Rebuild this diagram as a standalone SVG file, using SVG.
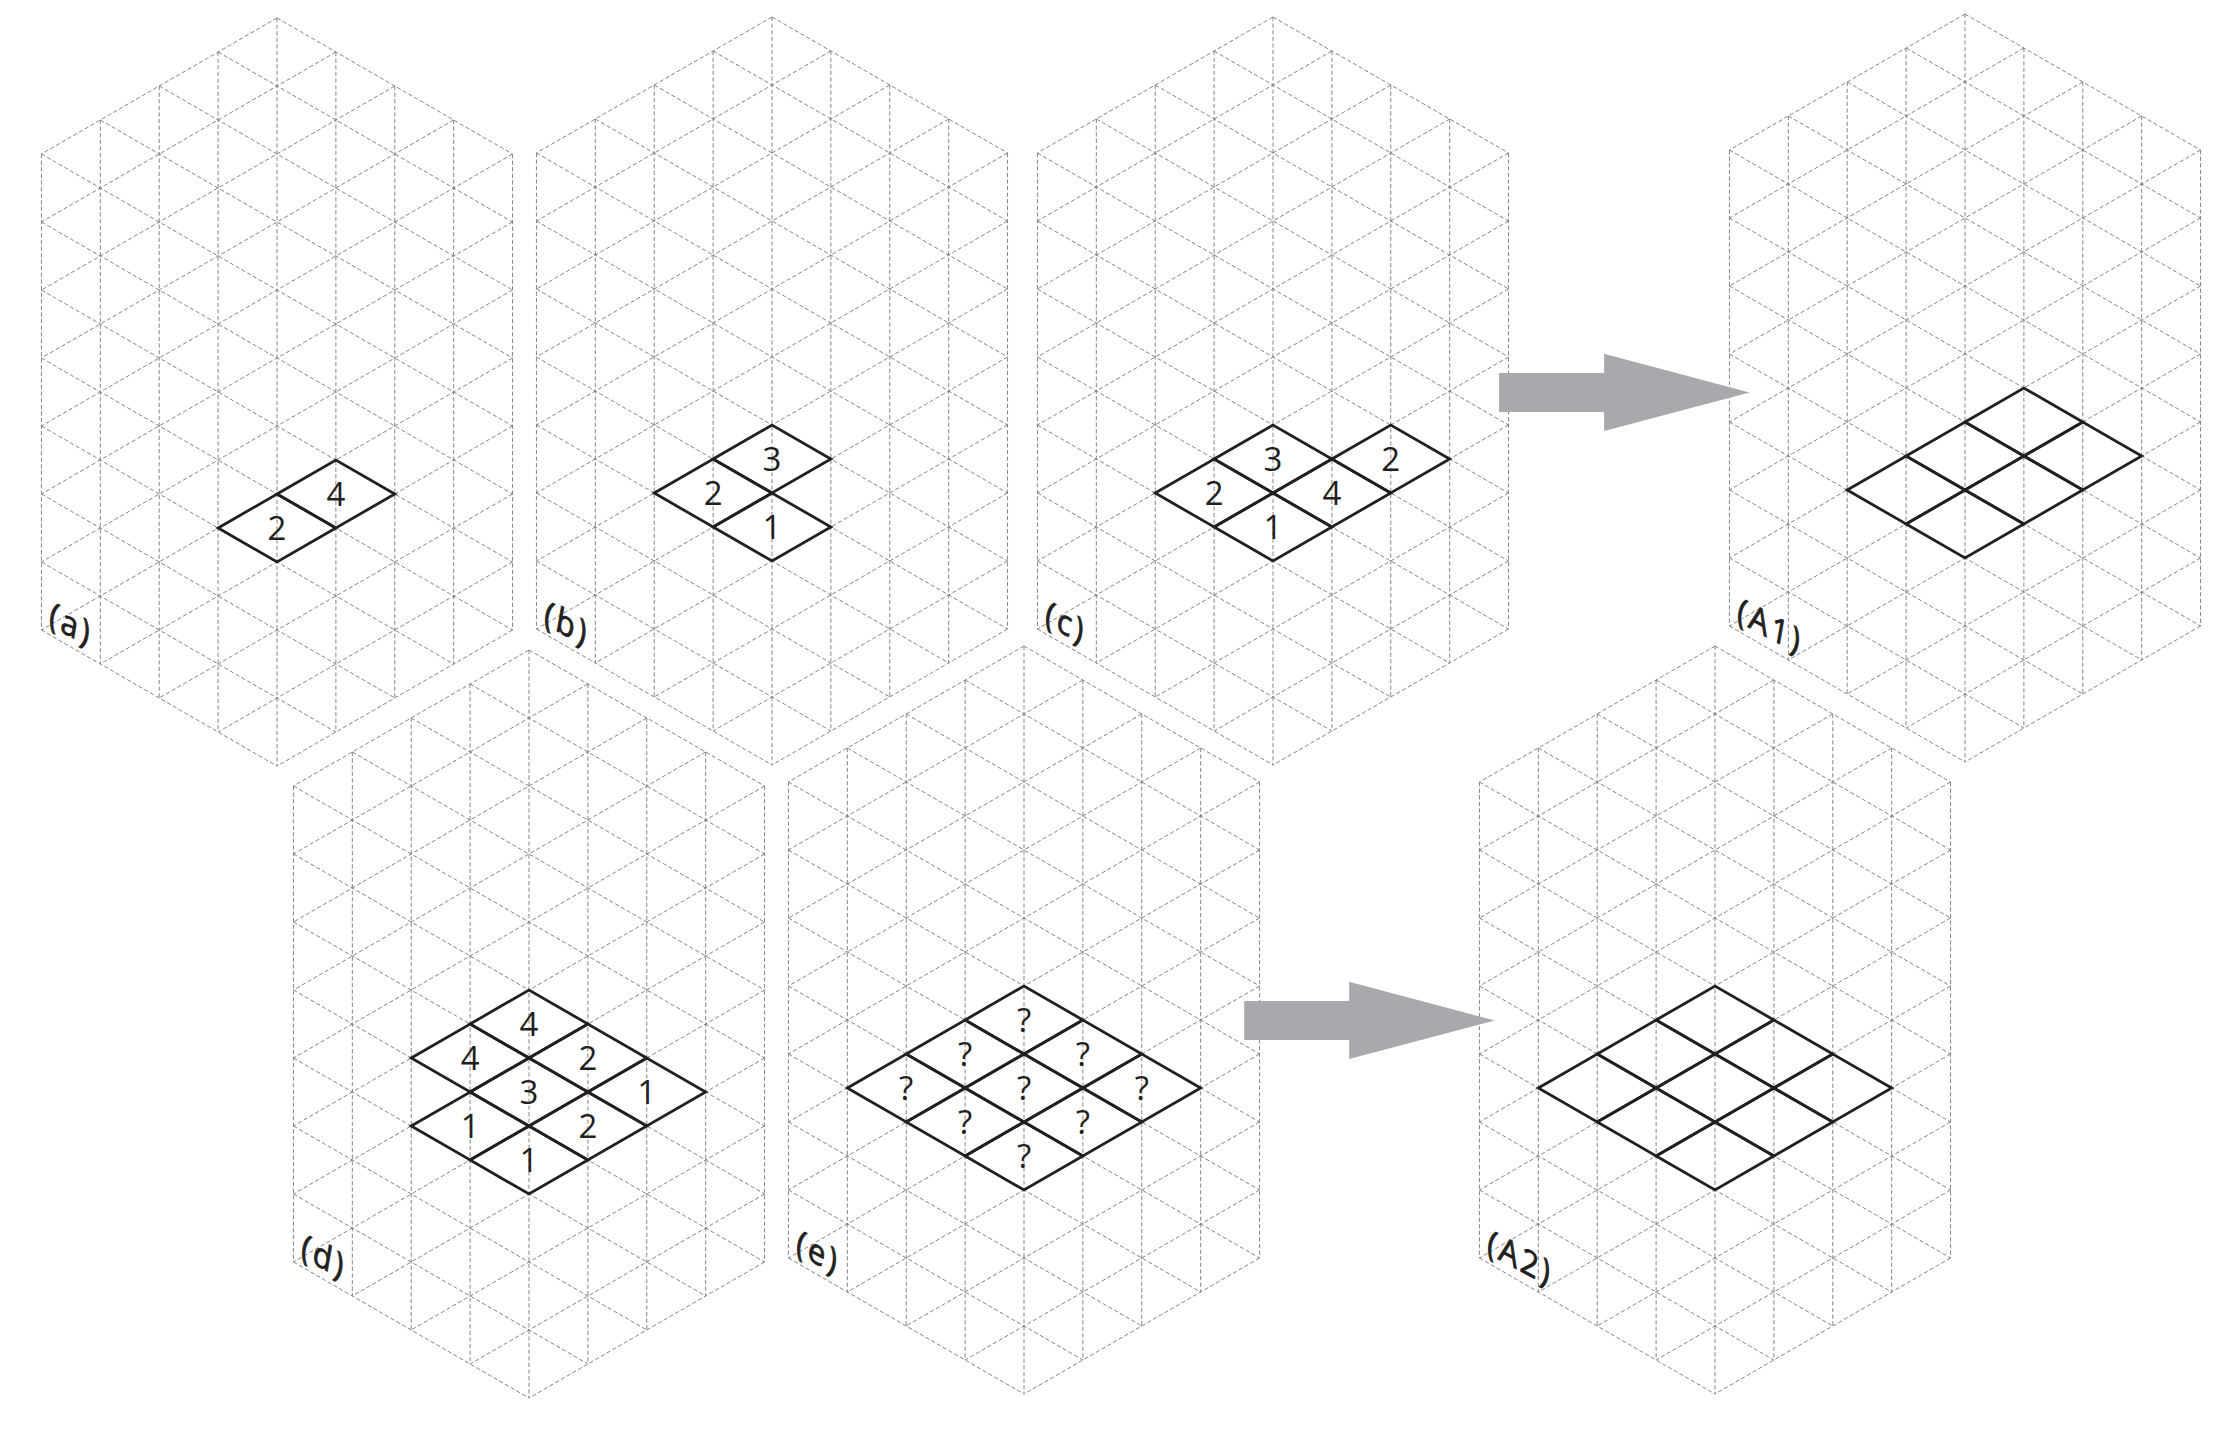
<svg xmlns="http://www.w3.org/2000/svg" xmlns:xlink="http://www.w3.org/1999/xlink" width="2234" height="1442" viewBox="0 0 2234 1442">
<style>
.grid{fill:none;stroke:#858585;stroke-width:1;stroke-dasharray:4.2 2.4}
.rh{fill:none;stroke:#231f20;stroke-width:2.8;stroke-linejoin:miter}
.num{font-family:"Open Sans","Noto Sans","Liberation Sans",sans-serif;font-size:33px;fill:#231f20;text-anchor:middle}
.lbl{font-family:"Open Sans","Noto Sans","Liberation Sans",sans-serif;font-size:34px;fill:#231f20;stroke:#231f20;stroke-width:0.8px;letter-spacing:3px}
.arrow{fill:#a7a9ac;stroke:none}
</style>
<defs>
<path id="grid" class="grid" d="M-235.56,136V612M-176.67,102V646M-117.78,68V680M-58.89,34V714M0,0V748M58.89,34V714M117.78,68V680M176.67,102V646M235.56,136V612
M0,0L235.56,136M-58.89,34L235.56,204M-117.78,68L235.56,272M-176.67,102L235.56,340M-235.56,136L235.56,408M-235.56,204L235.56,476M-235.56,272L235.56,544M-235.56,340L235.56,612M-235.56,408L176.67,646M-235.56,476L117.78,680M-235.56,544L58.89,714M-235.56,612L0,748
M0,0L-235.56,136M58.89,34L-235.56,204M117.78,68L-235.56,272M176.67,102L-235.56,340M235.56,136L-235.56,408M235.56,204L-235.56,476M235.56,272L-235.56,544M235.56,340L-235.56,612M235.56,408L-176.67,646M235.56,476L-117.78,680M235.56,544L-58.89,714M235.56,612L0,748"/>
<path id="rh" class="rh" d="M-58.89,0L0,-34L58.89,0L0,34Z"/>
<path id="arr" class="arrow" d="M0,-19.4H105V-38.7L250.5,0L105,38.5V19.4H0Z"/>
</defs>

<g id="panel-a">
<use href="#grid" x="277" y="18"/>
<use href="#rh" x="277" y="528"/>
<use href="#rh" x="335.89" y="494"/>
<text class="num" x="277" y="540">2</text>
<text class="num" x="335.89" y="506">4</text>
<text class="lbl" transform="translate(48,625) matrix(0.883,0.469,-0.17,0.985,0,0)">(a)</text>
</g>

<g id="panel-b">
<use href="#grid" x="772" y="17"/>
<use href="#rh" x="772" y="459"/>
<use href="#rh" x="713.11" y="493"/>
<use href="#rh" x="772" y="527"/>
<text class="num" x="772" y="471">3</text>
<text class="num" x="713.11" y="505">2</text>
<text class="num" x="772" y="539">1</text>
<text class="lbl" transform="translate(543,624) matrix(0.883,0.469,-0.17,0.985,0,0)">(b)</text>
</g>

<g id="panel-c">
<use href="#grid" x="1273" y="17"/>
<use href="#rh" x="1273" y="459"/>
<use href="#rh" x="1214.11" y="493"/>
<use href="#rh" x="1273" y="527"/>
<use href="#rh" x="1331.89" y="493"/>
<use href="#rh" x="1390.78" y="459"/>
<text class="num" x="1273" y="471">3</text>
<text class="num" x="1214.11" y="505">2</text>
<text class="num" x="1273" y="539">1</text>
<text class="num" x="1331.89" y="505">4</text>
<text class="num" x="1390.78" y="471">2</text>
<text class="lbl" transform="translate(1044,624) matrix(0.883,0.469,-0.17,0.985,0,0)">(c)</text>
</g>

<g id="panel-A1">
<use href="#grid" x="1965" y="14"/>
<use href="#rh" x="1906.11" y="490"/>
<use href="#rh" x="1965" y="456"/>
<use href="#rh" x="2023.89" y="422"/>
<use href="#rh" x="2082.78" y="456"/>
<use href="#rh" x="2023.89" y="490"/>
<use href="#rh" x="1965" y="524"/>
<text class="lbl" transform="translate(1736,621) matrix(0.883,0.469,-0.17,0.985,0,0)">(A1)</text>
</g>

<g id="panel-d">
<use href="#grid" x="529" y="650"/>
<use href="#rh" x="529" y="1024"/>
<use href="#rh" x="470.11" y="1058"/>
<use href="#rh" x="587.89" y="1058"/>
<use href="#rh" x="529" y="1092"/>
<use href="#rh" x="646.78" y="1092"/>
<use href="#rh" x="470.11" y="1126"/>
<use href="#rh" x="587.89" y="1126"/>
<use href="#rh" x="529" y="1160"/>
<text class="num" x="529" y="1036">4</text>
<text class="num" x="470.11" y="1070">4</text>
<text class="num" x="587.89" y="1070">2</text>
<text class="num" x="529" y="1104">3</text>
<text class="num" x="646.78" y="1104">1</text>
<text class="num" x="470.11" y="1138">1</text>
<text class="num" x="587.89" y="1138">2</text>
<text class="num" x="529" y="1172">1</text>
<text class="lbl" transform="translate(300,1257) matrix(0.883,0.469,-0.17,0.985,0,0)">(d)</text>
</g>

<g id="panel-e">
<use href="#grid" x="1024" y="646"/>
<use href="#rh" x="1024" y="1020"/>
<use href="#rh" x="965.11" y="1054"/>
<use href="#rh" x="1082.89" y="1054"/>
<use href="#rh" x="906.22" y="1088"/>
<use href="#rh" x="1024" y="1088"/>
<use href="#rh" x="1141.78" y="1088"/>
<use href="#rh" x="965.11" y="1122"/>
<use href="#rh" x="1082.89" y="1122"/>
<use href="#rh" x="1024" y="1156"/>
<text class="num" x="1024" y="1032">?</text>
<text class="num" x="965.11" y="1066">?</text>
<text class="num" x="1082.89" y="1066">?</text>
<text class="num" x="906.22" y="1100">?</text>
<text class="num" x="1024" y="1100">?</text>
<text class="num" x="1141.78" y="1100">?</text>
<text class="num" x="965.11" y="1134">?</text>
<text class="num" x="1082.89" y="1134">?</text>
<text class="num" x="1024" y="1168">?</text>
<text class="lbl" transform="translate(795,1253) matrix(0.883,0.469,-0.17,0.985,0,0)">(e)</text>
</g>

<g id="panel-A2">
<use href="#grid" x="1715" y="646"/>
<use href="#rh" x="1715" y="1020"/>
<use href="#rh" x="1656.11" y="1054"/>
<use href="#rh" x="1773.89" y="1054"/>
<use href="#rh" x="1597.22" y="1088"/>
<use href="#rh" x="1715" y="1088"/>
<use href="#rh" x="1832.78" y="1088"/>
<use href="#rh" x="1656.11" y="1122"/>
<use href="#rh" x="1773.89" y="1122"/>
<use href="#rh" x="1715" y="1156"/>
<text class="lbl" transform="translate(1486,1253) matrix(0.883,0.469,-0.17,0.985,0,0)">(A2)</text>
</g>

<g id="connectors">
<use href="#arr" x="1499.1" y="392.5"/>
<use href="#arr" x="1244.2" y="1020.5"/>
</g>
</svg>
